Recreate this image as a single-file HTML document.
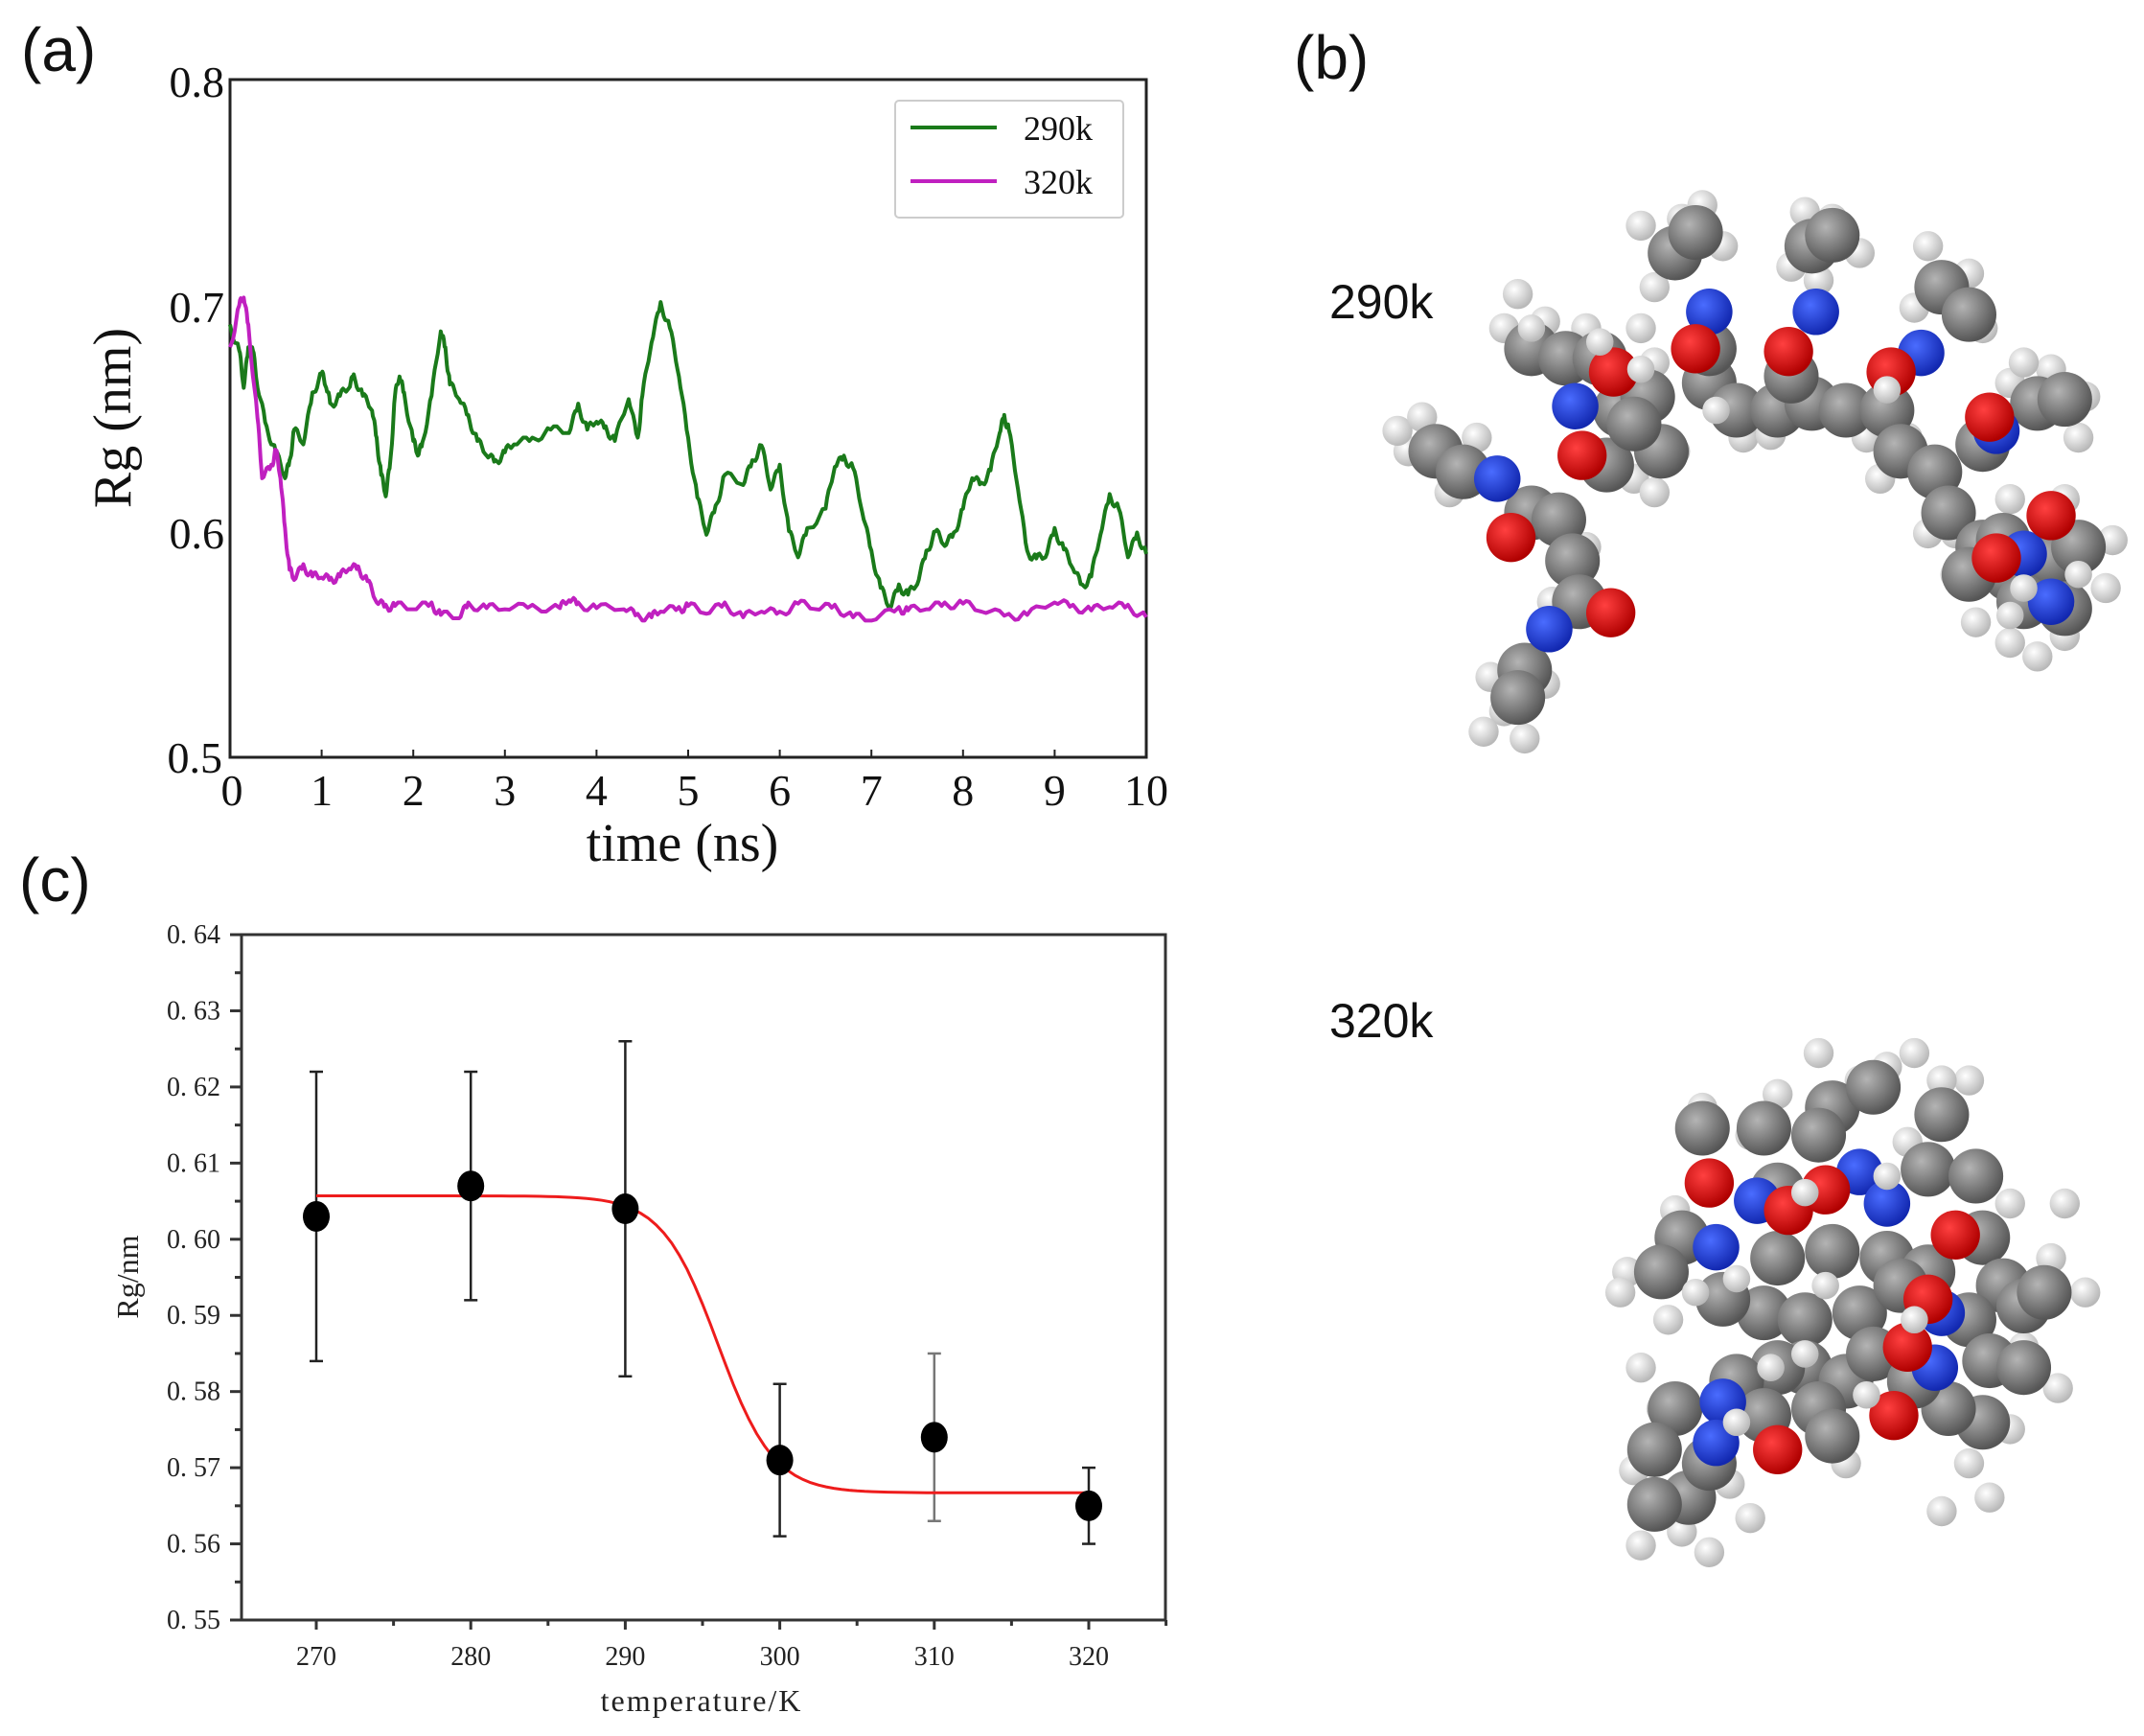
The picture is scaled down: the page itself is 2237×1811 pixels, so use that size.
<!DOCTYPE html>
<html><head><meta charset="utf-8">
<style>
html,body{margin:0;padding:0;background:#fff;}
svg{display:block;}
</style></head>
<body>
<svg id="s" xmlns="http://www.w3.org/2000/svg" width="2237" height="1811" viewBox="0 0 2237 1811">
<defs>
<radialGradient id="gC" cx="0.38" cy="0.35" r="0.65"><stop offset="0" stop-color="#b4b4b4"/><stop offset="1" stop-color="#555"/></radialGradient>
<radialGradient id="gO" cx="0.38" cy="0.35" r="0.65"><stop offset="0" stop-color="#ff4040"/><stop offset="1" stop-color="#b00000"/></radialGradient>
<radialGradient id="gN" cx="0.38" cy="0.35" r="0.65"><stop offset="0" stop-color="#4a6cff"/><stop offset="1" stop-color="#1228b0"/></radialGradient>
<radialGradient id="gH" cx="0.38" cy="0.35" r="0.65"><stop offset="0" stop-color="#ffffff"/><stop offset="1" stop-color="#b8b8b8"/></radialGradient>
</defs>
<rect width="2237" height="1811" fill="#fff"/>

<g font-family="'Liberation Sans',sans-serif" font-size="64" fill="#111">
<text x="22" y="74">(a)</text>
<text x="1350" y="82">(b)</text>
<text x="20" y="940">(c)</text>
</g>
<g font-family="'Liberation Sans',sans-serif" font-size="50" fill="#111">
<text x="1387" y="332">290k</text>
<text x="1387" y="1082">320k</text>
</g>

<g id="pa" font-family="'Liberation Serif',serif" fill="#111">
<rect x="240" y="83" width="956" height="707" fill="none" stroke="#222" stroke-width="3"/>
<g font-size="46" text-anchor="end">
<text x="234" y="101">0.8</text>
<text x="234" y="336">0.7</text>
<text x="234" y="572">0.6</text>
<text x="232" y="806">0.5</text>
</g>
<g id="xa" font-size="46" text-anchor="middle"></g>
<text x="712" y="898" font-size="56" text-anchor="middle">time (ns)</text>
<text transform="translate(136,436) rotate(-90)" font-size="56" text-anchor="middle">Rg (nm)</text>
<rect x="934" y="105" width="238" height="122" fill="#fff" stroke="#ccc" stroke-width="2" rx="4"/>
<line x1="950" y1="133" x2="1040" y2="133" stroke="#1a7a1a" stroke-width="4"/>
<line x1="950" y1="189" x2="1040" y2="189" stroke="#c020c0" stroke-width="4"/>
<text x="1068" y="146" font-size="36">290k</text>
<text x="1068" y="202" font-size="36">320k</text>
<polyline id="g290" fill="none" stroke="#1a7a1a" stroke-width="4" stroke-linejoin="round"/>
<polyline id="g320" fill="none" stroke="#c020c0" stroke-width="4" stroke-linejoin="round"/>
</g>

<g id="pc" font-family="'Liberation Serif',serif" fill="#222">
<rect x="252" y="975" width="964" height="715" fill="none" stroke="#333" stroke-width="3"/>
<g id="cticks" stroke="#333" stroke-width="3"></g>
<g id="clabels" font-size="28"></g>
<text x="732" y="1785" font-size="32" text-anchor="middle" letter-spacing="2">temperature/K</text>
<text transform="translate(144,1332) rotate(-90)" font-size="32" text-anchor="middle">Rg/nm</text>
<g id="cerr" stroke="#222" stroke-width="2.5"></g>
<polyline id="fit" fill="none" stroke="#ee1c1c" stroke-width="3"/>
<g id="cpts" fill="#000"></g>
</g>

<g id="mol" transform="scale(1.4267)"></g>
</svg>
<script>
var NS="http://www.w3.org/2000/svg";
function el(p,t,a){var e=document.createElementNS(NS,t);for(var k in a)e.setAttribute(k,a[k]);p.appendChild(e);return e;}
var X=function(t){return 240+t*95.6;}, Y=function(v){return 790-(v-0.5)*2357;};
var xa=document.getElementById('xa');
for(var i=0;i<=10;i++){var t=el(xa,'text',{x:X(i)+(i==0?2:0),y:840});t.textContent=i;
 el(document.getElementById('pa'),'line',{x1:X(i),y1:790,x2:X(i),y2:782,stroke:'#222','stroke-width':2});}
var g=[[0,.69],[.1,.68],[.15,.665],[.2,.68],[.25,.68],[.3,.665],[.4,.645],[.5,.635],[.6,.625],[.65,.63],[.7,.645],[.8,.64],[.9,.66],[1,.67],[1.05,.665],[1.1,.655],[1.2,.66],[1.3,.665],[1.35,.668],[1.45,.66],[1.55,.655],[1.6,.64],[1.65,.625],[1.7,.617],[1.75,.63],[1.8,.66],[1.85,.67],[1.9,.66],[2,.64],[2.05,.635],[2.1,.638],[2.2,.66],[2.3,.69],[2.35,.68],[2.4,.665],[2.5,.66],[2.6,.65],[2.7,.64],[2.8,.635],[2.9,.63],[3,.635],[3.1,.64],[3.3,.64],[3.5,.645],[3.7,.645],[3.8,.655],[3.9,.645],[4,.65],[4.1,.645],[4.2,.64],[4.35,.66],[4.45,.64],[4.5,.66],[4.6,.685],[4.7,.7],[4.8,.69],[4.9,.67],[5,.64],[5.1,.615],[5.2,.6],[5.3,.61],[5.4,.625],[5.6,.622],[5.7,.63],[5.8,.638],[5.9,.62],[6,.628],[6.1,.6],[6.2,.59],[6.3,.6],[6.5,.61],[6.6,.63],[6.7,.632],[6.8,.628],[6.9,.61],[7,.59],[7.1,.575],[7.2,.567],[7.3,.575],[7.4,.572],[7.5,.578],[7.6,.59],[7.7,.6],[7.8,.595],[7.9,.598],[8,.61],[8.1,.625],[8.2,.62],[8.3,.627],[8.4,.645],[8.45,.65],[8.5,.645],[8.6,.62],[8.7,.59],[8.8,.588],[8.9,.59],[9,.6],[9.1,.592],[9.2,.585],[9.3,.575],[9.4,.58],[9.5,.6],[9.6,.615],[9.7,.61],[9.8,.59],[9.9,.598],[10,.59]];
var m=[[0,.68],[.1,.7],[.15,.705],[.2,.69],[.3,.65],[.35,.625],[.45,.628],[.5,.636],[.55,.625],[.6,.6],[.65,.583],[.7,.58],[.8,.584],[.9,.58],[1,.581],[1.1,.578],[1.2,.58],[1.3,.585],[1.4,.583],[1.5,.578],[1.6,.57],[1.7,.566],[1.8,.567],[2,.567],[2.2,.567],[2.3,.563],[2.5,.563],[2.6,.567],[2.8,.566],[3,.567],[3.3,.566],[3.6,.566],[3.7,.571],[3.8,.567],[4,.566],[4.3,.567],[4.45,.562],[4.6,.562],[4.7,.566],[4.9,.565],[5,.567],[5.2,.565],[5.4,.567],[5.6,.562],[5.8,.566],[6,.563],[6.2,.568],[6.4,.567],[6.6,.566],[6.8,.562],[7,.562],[7.3,.565],[7.4,.565],[7.6,.567],[7.8,.567],[8,.568],[8.2,.566],[8.5,.562],[8.7,.563],[9,.57],[9.2,.566],[9.4,.565],[9.6,.568],[9.8,.566],[10,.562]];
function pts(a){var s=[];for(var i=0;i<a.length-1;i++){var n=6;for(var j=0;j<n;j++){var f=j/n,t=a[i][0]+(a[i+1][0]-a[i][0])*f,v=a[i][1]+(a[i+1][1]-a[i][1])*f+(j%2?0.0015:-0.0015)*((i*7+j)%3-1);s.push(X(t).toFixed(1)+','+Y(v).toFixed(1));}}s.push(X(10)+','+Y(a[a.length-1][1]));return s.join(' ');}
document.getElementById('g290').setAttribute('points',pts(g));
document.getElementById('g320').setAttribute('points',pts(m));
var CX=function(T){return 330+(T-270)*16.12;}, CY=function(v){return 1690-(v-0.55)*7944;};
var ct=document.getElementById('cticks'),cl=document.getElementById('clabels');
for(var k=0;k<=18;k++){var v=0.55+k*0.005,y=CY(v);el(ct,'line',{x1:252,y1:y,x2:k%2?245:240,y2:y});
 if(k%2==0){var tx=el(cl,'text',{x:230,y:y+9,'text-anchor':'end'});tx.textContent='0. '+Math.round(v*100);}}
for(var T=270;T<=325;T+=5){var x=CX(T);el(ct,'line',{x1:x,y1:1690,x2:x,y2:T%10?1696:1700});
 if(T%10==0&&T<=320){var tx=el(cl,'text',{x:x,y:1737,'text-anchor':'middle'});tx.textContent=T;}}
var d=[[270,.603,.622,.584],[280,.607,.622,.592],[290,.604,.626,.582],[300,.571,.581,.561],[310,.574,.585,.563],[320,.565,.570,.560]];
var ce=document.getElementById('cerr'),cp=document.getElementById('cpts');
d.forEach(function(p,i){var x=CX(p[0]);var st=i==4?{stroke:'#777'}:{};
 var a={x1:x,y1:CY(p[2]),x2:x,y2:CY(p[3])};for(var q in st)a[q]=st[q];el(ce,'line',a);
 [p[2],p[3]].forEach(function(v){var b={x1:x-7,y1:CY(v),x2:x+7,y2:CY(v)};for(var q in st)b[q]=st[q];el(ce,'line',b);});
 el(cp,'ellipse',{cx:x,cy:CY(p[1]),rx:14,ry:16});});
var fp=[];for(var T=270;T<=320;T+=0.5){var v=0.5667+(0.6057-0.5667)/(1+Math.exp((T-296)/1.8));fp.push(CX(T).toFixed(1)+','+CY(v).toFixed(1));}
document.getElementById('fit').setAttribute('points',fp.join(' '));
var mol=document.getElementById('mol');
function at(list,type,r){list.forEach(function(p){el(mol,'circle',{cx:p[0],cy:p[1],r:r,fill:'url(#g'+type+')'});});}
at([[1030,330],[1022,315],[1040,305],[1060,360],[1080,320],[1100,520],[1090,495],[1085,535],[1130,500],[1115,540],[1135,440],[1110,215],[1100,240],[1130,235],[1160,240],[1200,240],[1210,265],[1195,350],[1210,360],[1225,330],[1200,165],[1230,160],[1245,150],[1260,180],[1210,210],[1320,155],[1340,160],[1360,185],[1310,195],[1330,205],[1410,180],[1440,200],[1450,240],[1400,225],[1275,320],[1295,318],[1365,320],[1395,320],[1375,350],[1410,390],[1470,280],[1500,270],[1525,290],[1520,320],[1480,265],[1430,420],[1445,455],[1470,470],[1490,480],[1510,465],[1540,430],[1545,395],[1470,365],[1510,365],[1430,390],[1160,400]],'H',11);
at([[1050,330],[1070,345],[1120,375],[1140,380],[1150,410],[1155,440],[1115,490],[1110,510],[1120,255],[1145,262],[1170,262],[1185,300],[1205,290],[1215,330],[1175,340],[1195,310],[1250,280],[1270,300],[1300,300],[1325,295],[1350,300],[1380,300],[1390,330],[1415,345],[1425,375],[1225,185],[1240,170],[1325,180],[1340,172],[1420,210],[1440,230],[1490,295],[1510,292],[1450,400],[1470,420],[1500,410],[1520,400],[1480,440],[1510,445],[1440,420],[1465,395],[1250,255],[1310,275],[1450,325]],'C',20);
at([[1095,350],[1133,460],[1152,297],[1250,228],[1328,228],[1405,258],[1460,315],[1480,405],[1500,440]],'N',17);
at([[1105,393],[1178,448],[1180,272],[1157,333],[1240,255],[1308,257],[1383,272],[1455,305],[1500,377],[1460,408]],'O',18);
at([[1120,240],[1170,250],[1200,270],[1255,300],[1380,285],[1520,420],[1480,430],[1470,450]],'H',10);
at([[1245,810],[1300,800],[1360,790],[1380,780],[1440,790],[1280,830],[1190,930],[1220,965],[1185,945],[1525,945],[1500,920],[1505,1015],[1480,985],[1350,1070],[1440,1070],[1470,1045],[1200,1000],[1200,1130],[1230,1120],[1265,1085],[1225,885],[1420,790],[1470,880],[1510,880],[1280,1110],[1195,1075],[1250,1135],[1420,1105],[1455,1095],[1330,770],[1400,770],[1395,835],[1215,1030]],'H',11);
at([[1245,825],[1290,825],[1340,810],[1370,795],[1420,815],[1410,855],[1330,830],[1300,920],[1340,915],[1380,920],[1410,930],[1290,960],[1320,965],[1360,960],[1390,940],[1450,905],[1465,940],[1440,965],[1480,955],[1495,945],[1455,995],[1480,1000],[1320,1000],[1350,1010],[1300,1000],[1330,1030],[1230,905],[1215,930],[1225,1030],[1210,1060],[1235,1095],[1210,1100],[1450,1040],[1425,1030],[1340,1050],[1270,1010],[1260,950],[1290,1035],[1370,990],[1400,1010],[1445,860],[1250,1070],[1300,870]],'C',20);
at([[1285,878],[1360,857],[1380,880],[1255,912],[1420,960],[1415,1000],[1260,1025],[1255,1055]],'N',17);
at([[1250,865],[1308,885],[1335,870],[1430,903],[1410,950],[1395,985],[1385,1035],[1300,1060]],'O',18);
at([[1320,872],[1380,860],[1335,940],[1270,935],[1320,990],[1400,965],[1270,1040],[1365,1020],[1295,1000],[1240,945]],'H',10);
</script>
</body></html>
